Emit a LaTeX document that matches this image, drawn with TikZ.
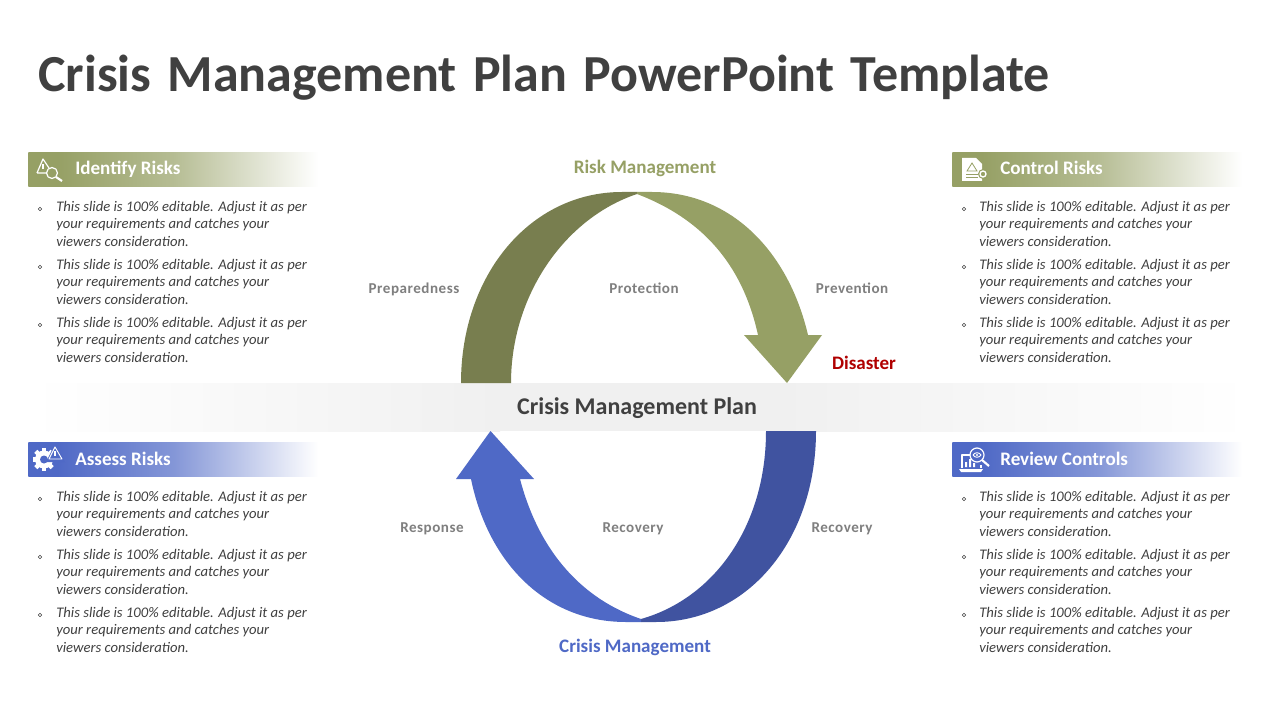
\documentclass[tikz,border=0pt]{standalone}
\usepackage{fontspec}
\setmainfont{Carlito}
\newfontfamily\titlefont[WordSpace=1.4]{Carlito}
\newfontfamily\spacedfont[LetterSpace=3.5]{Carlito}
\definecolor{olivemain}{HTML}{96A065}
\definecolor{olivedark}{HTML}{787E4F}
\definecolor{bluemain}{HTML}{4F69C6}
\definecolor{bluedark}{HTML}{4053A0}
\definecolor{bandgrey}{HTML}{F0F0F0}
\definecolor{textdark}{HTML}{404040}
\definecolor{labelgrey}{HTML}{7F7F7F}
\definecolor{disasterred}{HTML}{B00000}
\pgfdeclarehorizontalshading{olivefade}{100bp}{color(0bp)=(olivemain); color(30bp)=(olivemain); color(50bp)=(olivemain!70!white); color(75bp)=(white); color(100bp)=(white)}
\pgfdeclarehorizontalshading{bluefade}{100bp}{color(0bp)=(bluemain); color(30bp)=(bluemain); color(50bp)=(bluemain!70!white); color(75bp)=(white); color(100bp)=(white)}
\tikzset{
    headband/.style={minimum width=217.5pt, minimum height=26pt, inner sep=0pt, anchor=north west},
    headtext/.style={font=\fontsize{14.3}{16}\selectfont\bfseries, text=white, inner sep=0pt, anchor=base west},
    bodytext/.style={font=\fontsize{11}{13.1}\selectfont\itshape, text=textdark, inner sep=0pt, anchor=north west, align=left},
    bulletmark/.style={circle, draw=textdark, line width=0.45pt, minimum size=2.6pt, inner sep=0pt},
    sidelabel/.style={font=\spacedfont\fontsize{11.3}{13}\selectfont\bfseries, text=labelgrey, inner sep=0pt, anchor=base},
    cyclelabel/.style={font=\fontsize{14.3}{16}\selectfont\bfseries, inner sep=0pt, anchor=base},
    iconline/.style={draw=white, line width=0.9pt, line join=round},
}
\begin{document}
\begin{tikzpicture}[x=0.75pt,y=-0.75pt]
    \pgfmathsetmacro{\bandtop}{383};
    \pgfmathsetmacro{\bandbot}{431};
    \useasboundingbox (0,0) rectangle (1280,720);
    \fill[white] (0,0) rectangle (1280,720);
    \node[font=\titlefont\fontsize{39}{42}\selectfont\bfseries, text=textdark, inner sep=0pt, anchor=base west] (title) at (38,92) {Crisis Management Plan PowerPoint Template};

    % centre band
    \shade[left color=white, right color=bandgrey] (30,\bandtop) rectangle (500,\bandbot);
    \fill[bandgrey] (500,\bandtop) rectangle (780,\bandbot);
    \shade[left color=bandgrey, right color=white] (780,\bandtop) rectangle (1250,\bandbot);
    \node[font=\fontsize{18}{20}\selectfont\bfseries, text=textdark, inner sep=0pt, anchor=base] (planlabel) at (637,414) {Crisis Management Plan};

    % top arrow
    \fill[olivedark] (461,\bandtop) .. controls (461,275) and (530,192) .. (622,192) -- (637,192) -- (637,194)
        .. controls (565,218) and (511,295) .. (511,\bandtop) -- cycle;
    \fill[olivemain] (637,192) -- (652,192) .. controls (730,192) and (788,250) .. (808,335) -- (822,335) -- (787,383) -- (744,335) -- (758,335)
        .. controls (742,262) and (700,218) .. (637,194) -- cycle;

    % bottom arrow
    \fill[bluedark] (816,\bandbot) .. controls (816,540) and (748,622) .. (656,622) -- (641,622) -- (641,619)
        .. controls (715,598) and (766,525) .. (766,\bandbot) -- cycle;
    \fill[bluemain] (641,622) -- (626,622) .. controls (545,622) and (488,562) .. (471,479) -- (456,479) -- (490.5,431) -- (534,479) -- (520,479)
        .. controls (540,555) and (585,600) .. (641,619) -- cycle;

    \node[cyclelabel, text=olivemain] (riskmgmt) at (645,174) {Risk Management};
    \node[cyclelabel, text=bluemain] (crisismgmt) at (635,652) {Crisis Management};
    \node[cyclelabel, text=disasterred] (disaster) at (864,369) {Disaster};
    \node[sidelabel] (preparedness) at (414,293) {Preparedness};
    \node[sidelabel] (protection) at (644,293) {Protection};
    \node[sidelabel] (prevention) at (852,293) {Prevention};
    \node[sidelabel] (response) at (432,532) {Response};
    \node[sidelabel] (recoveryin) at (633,532) {Recovery};
    \node[sidelabel] (recoveryout) at (842,532) {Recovery};

    % side panels
    \foreach \panel/\xa/\ya/\fade/\head/\shift in {identify/28/152/olivefade/Identify Risks/0, control/952/152/olivefade/Control Risks/-1, assess/28/442/bluefade/Assess Risks/0, review/952/442/bluefade/Review Controls/-1} {
        \node[headband, shading=\fade] (\panel band) at (\xa,\ya) {};
        \node[headtext] (\panel head) at ({\xa+47-\shift},{\ya+23}) {\head};
        \foreach \k in {0,1,2} {
            \node[bulletmark] (\panel mark\k) at ({\xa+12},{\ya+57+58*\k}) {};
            \node[bodytext] (\panel text\k) at ({\xa+28+\shift},{\ya+49+58*\k}) {This slide is 100\% editable. Adjust it as per\\your requirements and catches your\\viewers consideration.};
        }
    }

    % identify icon
    \draw[iconline] (37,173) -- (43,159) -- (49,168) (37,173) -- (46,173);
    \draw[iconline] (43,164) -- (43,169);
    \draw[iconline] (52,173) circle (5.5);
    \draw[white, line width=1.6pt] (56,177) -- (62,181);

    % assess icon
    \foreach \a in {0,45,...,315} {
        \fill[white, shift={(44,459.5)}, rotate=\a] (-2.2,-11.5) rectangle (2.2,-7);
    }
    \fill[white] (44,459.5) circle (9);
    \fill[bluemain] (44,459.5) circle (4);
    \fill[bluemain] (55,444) -- (65,462) -- (46,462) -- cycle;
    \draw[iconline, line width=0.7pt] (55,447) -- (62,459) -- (49,459) -- cycle;
    \draw[white, line width=0.8pt] (55,451) -- (55,456);

    % control icon
    \fill[white] (962,158) -- (976,158) -- (982,164) -- (982,181) -- (962,181) -- cycle;
    \draw[olivemain, line width=0.6pt] (972,163) -- (977,171) -- (967,171) -- cycle;
    \draw[olivemain, line width=0.6pt] (966,174) -- (978,174) (966,177) -- (978,177);
    \fill[olivemain] (983,174) circle (5);
    \draw[white, line width=1pt] (983,174) circle (3);

    % review icon
    \draw[iconline] (962,468) -- (962,455) -- (970,455) (981,465) -- (981,468);
    \fill[white] (959,469) -- (983,469) -- (981,472) -- (961,472) -- cycle;
    \fill[white] (965,467) rectangle (967,462) (969,467) rectangle (971,459) (973,467) rectangle (975,463);
    \draw[iconline, fill=bluemain] (977,455) circle (7);
    \draw[white, line width=0.7pt] (973,455) .. controls (975,452) and (979,452) .. (981,455) .. controls (979,458) and (975,458) .. (973,455);
    \fill[white] (977,455) circle (1.2);
    \draw[white, line width=1.6pt] (982,460) -- (989,466);
\end{tikzpicture}
\end{document}
